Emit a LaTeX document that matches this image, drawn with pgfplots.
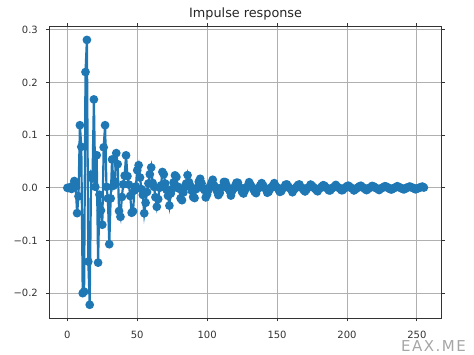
\documentclass[border=0pt]{standalone}
\usepackage{fontspec}
\setmainfont{DejaVu Sans}
\usepackage{pgfplots}
\pgfplotsset{compat=1.18}
\definecolor{mplblue}{HTML}{1F77B4}
\definecolor{gridgray}{HTML}{B0B0B0}
\begin{document}
\begin{tikzpicture}[x=1pt,y=1pt]
\path[use as bounding box] (0,0) rectangle (474,355);
\begin{axis}[
  at={(49.5pt,37pt)}, anchor=south west,
  scale only axis, width=392.2pt, height=291.3pt,
  xmin=-12.75, xmax=267.75, ymin=-0.2471, ymax=0.3061,
  xtick={0,50,100,150,200,250}, ytick={-0.2,-0.1,0,0.1,0.2,0.3},
  xticklabels={0,50,100,150,200,250},
  yticklabels={−0.2,−0.1,0.0,0.1,0.2,0.3},
  tick align=outside, major tick length=3.5pt,
  tick style={black!80, line width=0.8pt},
  grid=major, grid style={gridgray, line width=0.8pt},
  axis line style={black!80, line width=0.8pt},
  xticklabel style={font=\fontsize{10}{12}\selectfont, text=black!80, anchor=north, inner sep=0pt, yshift=-9pt},
  yticklabel style={font=\fontsize{10}{12}\selectfont, text=black!80, anchor=east, inner sep=0pt, xshift=-8pt},
  title={Impulse response},
  every axis title/.style={font=\fontsize{12.8}{15}\selectfont, text=black!85, at={(0.5,1)}, anchor=base, inner sep=0pt, yshift=8.7pt},
]
\addplot[mplblue, line width=2.2pt, mark=*, mark size=3.2pt, mark options={mplblue, solid}] coordinates {
(0,0) (1,0) (2,0.001) (3,-0.002) (4,0.004) (5,0.013) (6,0.003) (7,-0.048) (8,-0.016) (9,0.119)
(10,0.078) (11,-0.200) (12,-0.197) (13,0.220) (14,0.281) (15,-0.140) (16,-0.222) (17,0.025) (18,0.018) (19,0.168)
(20,0.002) (21,0.062) (22,-0.142) (23,-0.013) (24,-0.043) (25,-0.070) (26,0.077) (27,0.119) (28,0.002) (29,-0.020)
(30,-0.107) (31,-0.020) (32,0.054) (33,0.004) (34,0.012) (35,0.066) (36,0.045) (37,-0.044) (38,-0.0550) (39,-0.0173)
(40,0.0067) (41,0.0232) (42,0.0618) (43,0.0223) (44,0.0062) (45,-0.0154) (46,-0.0473) (47,-0.0446) (48,-0.0049) (49,0.0026)
(50,0.0335) (51,0.0431) (52,0.0197) (53,-0.0024) (54,-0.0134) (55,-0.0482) (56,-0.0283) (57,-0.0078) (58,0.0084) (59,0.0258)
(60,0.0388) (61,0.0094) (62,0.0019) (63,-0.0177) (64,-0.0359) (65,-0.0214) (66,0.0002) (67,0.0047) (68,0.0302) (69,0.0258)
(70,0.0083) (71,-0.0036) (72,-0.0151) (73,-0.0337) (74,-0.0106) (75,-0.0021) (76,0.0103) (77,0.0238) (78,0.0206) (79,0.0022)
(80,-0.0016) (81,-0.0199) (82,-0.0234) (83,-0.0087) (84,0.0022) (85,0.0082) (86,0.0242) (87,0.0108) (88,0.0032) (89,-0.0054)
(90,-0.0172) (91,-0.0193) (92,-0.0026) (93,0.0004) (94,0.0115) (95,0.0173) (96,0.0086) (97,-0.0005) (98,-0.0040) (99,-0.0181)
(100,-0.0123) (101,-0.0036) (102,0.0028) (103,0.0087) (104,0.0154) (105,0.0044) (106,0.0010) (107,-0.0060) (108,-0.0137) (109,-0.0098)
(110,-0.0004) (111,0.0015) (112,0.0113) (113,0.0110) (114,0.0041) (115,-0.0012) (116,-0.0054) (117,-0.0146) (118,-0.0053) (119,-0.0011)
(120,0.0037) (121,0.0098) (122,0.0097) (123,0.0013) (124,-0.0003) (125,-0.0078) (126,-0.0107) (127,-0.0046) (128,0.0008) (129,0.0032)
(130,0.0108) (131,0.0058) (132,0.0018) (133,-0.0022) (134,-0.0074) (135,-0.0100) (136,-0.0016) (137,-0.0001) (138,0.0050) (139,0.0090)
(140,0.0048) (141,-0.0001) (142,-0.0015) (143,-0.0092) (144,-0.0073) (145,-0.0022) (146,0.0012) (147,0.0041) (148,0.0090) (149,0.0029)
(150,0.0008) (151,-0.0029) (152,-0.0076) (153,-0.0063) (154,-0.0005) (155,0.0006) (156,0.0059) (157,0.0066) (158,0.0028) (159,-0.0005)
(160,-0.0027) (161,-0.0083) (162,-0.0036) (163,-0.0008) (164,0.0019) (165,0.0056) (166,0.0065) (167,0.0010) (168,0.0000) (169,-0.0041)
(170,-0.0068) (171,-0.0032) (172,0.0003) (173,0.0016) (174,0.0063) (175,0.0040) (176,0.0013) (177,-0.0011) (178,-0.0040) (179,-0.0065)
(180,-0.0018) (181,-0.0003) (182,0.0024) (183,0.0051) (184,0.0039) (185,0.0003) (186,-0.0005) (187,-0.0047) (188,-0.0048) (189,-0.0015)
(190,0.0006) (191,0.0021) (192,0.0056) (193,0.0020) (194,0.0006) (195,-0.0014) (196,-0.0044) (197,-0.0042) (198,-0.0005) (199,0.0002)
(200,0.0032) (201,0.0042) (202,0.0019) (203,-0.0002) (204,-0.0013) (205,-0.0049) (206,-0.0026) (207,-0.0007) (208,0.0010) (209,0.0031)
(210,0.0040) (211,0.0008) (212,0.0001) (213,-0.0023) (214,-0.0043) (215,-0.0022) (216,0.0001) (217,0.0008) (218,0.0037) (219,0.0028)
(220,0.0009) (221,-0.0006) (222,-0.0021) (223,-0.0041) (224,-0.0013) (225,-0.0003) (226,0.0013) (227,0.0030) (228,0.0026) (229,0.0003)
(230,-0.0002) (231,-0.0026) (232,-0.0030) (233,-0.0011) (234,0.0003) (235,0.0011) (236,0.0032) (237,0.0015) (238,0.0004) (239,-0.0007)
(240,-0.0024) (241,-0.0028) (242,-0.0004) (243,0.0001) (244,0.0017) (245,0.0025) (246,0.0013) (247,-0.0001) (248,-0.0006) (249,-0.0028)
(250,-0.0017) (251,-0.0005) (252,0.0005) (253,0.0016) (254,0.0024) (255,0.0006)
};
\end{axis}
\node[anchor=base east, inner sep=0pt, text=black!35, font=\fontsize{15}{17}\selectfont] at (466,3.5) {E\kern1.5ptA\kern1.5ptX\kern1.5pt.\kern1.5ptM\kern1.5ptE};
\end{tikzpicture}
\end{document}
